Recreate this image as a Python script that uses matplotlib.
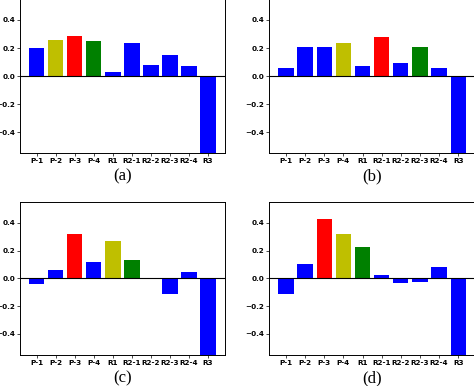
import matplotlib
matplotlib.use('Agg')
import matplotlib.pyplot as plt

#----------------------------------------------------------------------------

labels = ['P-1', 'P-2', 'P-3', 'P-4', 'R1', 'R2-1', 'R2-2', 'R2-3', 'R2-4', 'R3']

vals_a = [0.20, 0.255, 0.287, 0.248, 0.027, 0.236, 0.080, 0.149, 0.070, -0.62]
vals_b = [0.060, 0.205, 0.205, 0.234, 0.072, 0.275, 0.092, 0.207, 0.060, -0.62]
vals_c = [-0.039, 0.063, 0.316, 0.116, 0.270, 0.133, -0.007, -0.116, 0.048, -0.62]
vals_d = [-0.113, 0.101, 0.429, 0.320, 0.227, 0.024, -0.034, -0.029, 0.080, -0.62]

B, Y, R, G = 'blue', '#bfbf00', 'red', 'green'
cols_a = [B, Y, R, G, B, B, B, B, B, B]
cols_b = [B, B, B, Y, B, R, B, G, B, B]
cols_c = [B, B, R, B, Y, G, B, B, B, B]
cols_d = [B, B, R, Y, G, B, B, B, B, B]

captions = ['(a)', '(b)', '(c)', '(d)']

#----------------------------------------------------------------------------

def _panel(fig, rect, vals, cols, caption):
    ax = fig.add_axes(rect)
    ax.bar(labels, vals, color=cols, width=0.8)
    ax.axhline(0, color='black', linewidth=0.8)
    ax.set_ylim(-0.55, 0.55)
    ax.set_yticks([-0.4, -0.2, 0.0, 0.2, 0.4])
    ax.tick_params(labelsize=5.2, length=2, width=0.5, pad=1.5)
    for t in ax.get_xticklabels() + ax.get_yticklabels():
        t.set_fontweight('bold')
    for s in ax.spines.values():
        s.set_linewidth(0.7)
    x = rect[0] + rect[2] / 2
    y = rect[1] - 0.061
    fig.text(x, y, caption, ha='center', va='center',
             family='Liberation Serif', fontsize=12)
    return ax

fig = plt.figure(figsize=(4.74, 3.86), dpi=100)

_panel(fig, [0.042, 0.6036, 0.4325, 0.399], vals_a, cols_a, captions[0])
_panel(fig, [0.5675, 0.6036, 0.435, 0.399], vals_b, cols_b, captions[1])
_panel(fig, [0.042, 0.0811, 0.4325, 0.3956], vals_c, cols_c, captions[2])
_panel(fig, [0.5675, 0.0811, 0.435, 0.3956], vals_d, cols_d, captions[3])

fig.savefig('out.png', dpi=100)
